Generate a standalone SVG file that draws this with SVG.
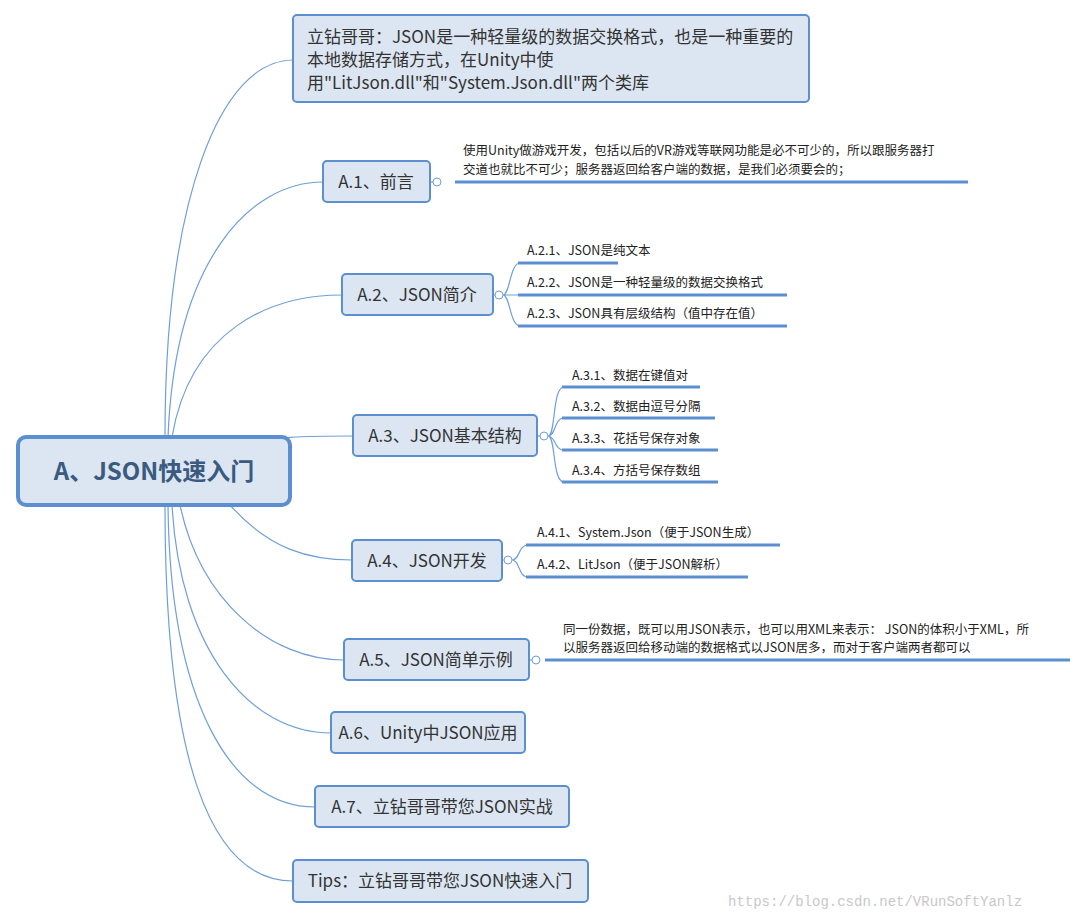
<svg xmlns="http://www.w3.org/2000/svg" width="1087" height="919" viewBox="0 0 1087 919">
<style>
.n{fill:#dce6f2;stroke:#5b8fd0;stroke-width:2}
.t{font-family:"Microsoft YaHei","Noto Sans CJK SC",sans-serif;font-size:17px;fill:#333}
.s{font-family:"Microsoft YaHei","Noto Sans CJK SC",sans-serif;font-size:12.5px;fill:#222}
.c{fill:none;stroke:#6f9fd8;stroke-width:1.2}
.u{stroke:#5b8fd0;stroke-width:3}
.o{fill:#fff;stroke:#6f9fd8;stroke-width:1}
</style>
<rect width="1087" height="919" fill="#fff"/>
<g id="connectors">
<path class="c" d="M165,437 C165,200 220,60 293,60"/>
<path class="c" d="M168,437 C175,260 250,182 323,182"/>
<path class="c" d="M172,437 C190,330 270,295 342,295"/>
<path class="c" d="M230,447 C270,436 310,436 353,436"/>
<path class="c" d="M230,505 C270,550 310,560 352,560"/>
<path class="c" d="M180,505 C200,600 270,660 344,660"/>
<path class="c" d="M172,505 C180,650 250,733 331,733"/>
<path class="c" d="M168,505 C170,700 230,807 315,807"/>
<path class="c" d="M165,505 C165,760 210,881 293,881"/>
<line class="c" x1="430" y1="182" x2="433" y2="182"/>
<line class="c" x1="493" y1="295" x2="495" y2="295"/>
<line class="c" x1="537" y1="436" x2="540" y2="436"/>
<line class="c" x1="502" y1="560" x2="504" y2="560"/>
<line class="c" x1="529" y1="660" x2="532" y2="660"/>
<line class="u" x1="455" y1="182" x2="968" y2="182"/>
<path class="c" d="M503,295 C510,295 510,263 520,263 M503,295 L520,295 M503,295 C510,295 510,326 520,326"/>
<line class="u" x1="518" y1="263" x2="618" y2="263"/>
<line class="u" x1="518" y1="295" x2="787" y2="295"/>
<line class="u" x1="518" y1="326" x2="787" y2="326"/>
<path class="c" d="M548,436 C556,436 552,387 564,387 M548,436 C556,436 554,418 564,418 M548,436 C556,436 554,450 564,450 M548,436 C556,436 552,482 564,482"/>
<line class="u" x1="562" y1="387" x2="700" y2="387"/>
<line class="u" x1="562" y1="418" x2="715" y2="418"/>
<line class="u" x1="562" y1="450" x2="718" y2="450"/>
<line class="u" x1="562" y1="482" x2="718" y2="482"/>
<path class="c" d="M512,560 C520,560 518,545 528,545 M512,560 C520,560 518,577 528,577"/>
<line class="u" x1="526" y1="545" x2="780" y2="545"/>
<line class="u" x1="526" y1="577" x2="748" y2="577"/>
<line class="u" x1="545" y1="660" x2="1070" y2="660"/>
<circle class="o" cx="437" cy="182" r="4"/>
<circle class="o" cx="499" cy="295" r="4"/>
<circle class="o" cx="544" cy="436" r="4"/>
<circle class="o" cx="508" cy="560" r="4"/>
<circle class="o" cx="536" cy="660" r="4"/>
</g>
<g id="root"><rect x="18" y="437" width="272" height="68" rx="8" fill="#dce6f2" stroke="#5b8fd0" stroke-width="4"/>
<text x="154" y="480" text-anchor="middle" font-family="Microsoft YaHei,'Noto Sans CJK SC',sans-serif" font-size="24" font-weight="bold" fill="#3a5a80">A、JSON快速入门</text></g>
<g id="intro"><rect class="n" x="293" y="15" width="516" height="87" rx="4"/>
<text class="t" x="307" y="43">立钻哥哥：JSON是一种轻量级的数据交换格式，也是一种重要的</text>
<text class="t" x="307" y="66">本地数据存储方式，在Unity中使</text>
<text class="t" x="307" y="89">用"LitJson.dll"和"System.Json.dll"两个类库</text></g>
<g id="a1"><rect class="n" x="323" y="161" width="107" height="41" rx="4"/><text class="t" x="376" y="188" text-anchor="middle">A.1、前言</text>
<text class="s" x="463" y="155">使用Unity做游戏开发，包括以后的VR游戏等联网功能是必不可少的，所以跟服务器打</text>
<text class="s" x="463" y="174">交道也就比不可少；服务器返回给客户端的数据，是我们必须要会的；</text></g>
<g id="a2"><rect class="n" x="342" y="274" width="151" height="41" rx="4"/><text class="t" x="417" y="301" text-anchor="middle">A.2、JSON简介</text>
<text class="s" x="527" y="255">A.2.1、JSON是纯文本</text>
<text class="s" x="527" y="287">A.2.2、JSON是一种轻量级的数据交换格式</text>
<text class="s" x="527" y="318">A.2.3、JSON具有层级结构（值中存在值）</text></g>
<g id="a3"><rect class="n" x="353" y="415" width="184" height="41" rx="4"/><text class="t" x="445" y="442" text-anchor="middle">A.3、JSON基本结构</text>
<text class="s" x="572" y="380">A.3.1、数据在键值对</text>
<text class="s" x="572" y="411">A.3.2、数据由逗号分隔</text>
<text class="s" x="572" y="443">A.3.3、花括号保存对象</text>
<text class="s" x="572" y="475">A.3.4、方括号保存数组</text></g>
<g id="a4"><rect class="n" x="352" y="540" width="150" height="41" rx="4"/><text class="t" x="427" y="567" text-anchor="middle">A.4、JSON开发</text>
<text class="s" x="537" y="537">A.4.1、System.Json（便于JSON生成）</text>
<text class="s" x="537" y="569">A.4.2、LitJson（便于JSON解析）</text></g>
<g id="a5"><rect class="n" x="344" y="639" width="185" height="41" rx="4"/><text class="t" x="436" y="666" text-anchor="middle">A.5、JSON简单示例</text>
<text class="s" x="563" y="634">同一份数据，既可以用JSON表示，也可以用XML来表示： JSON的体积小于XML，所</text>
<text class="s" x="563" y="652">以服务器返回给移动端的数据格式以JSON居多，而对于客户端两者都可以</text></g>
<g id="a6"><rect class="n" x="331" y="712" width="194" height="41" rx="4"/><text class="t" x="428" y="739" text-anchor="middle">A.6、Unity中JSON应用</text></g>
<g id="a7"><rect class="n" x="315" y="786" width="254" height="41" rx="4"/><text class="t" x="442" y="813" text-anchor="middle">A.7、立钻哥哥带您JSON实战</text></g>
<g id="tips"><rect class="n" x="293" y="860" width="295" height="42" rx="4"/><text class="t" x="440" y="887" text-anchor="middle">Tips：立钻哥哥带您JSON快速入门</text></g>
<text x="728" y="906" font-family="'Liberation Mono',monospace" font-size="14" fill="#c8c8c8">https://blog.csdn.net/VRunSoftYanlz</text>
</svg>
